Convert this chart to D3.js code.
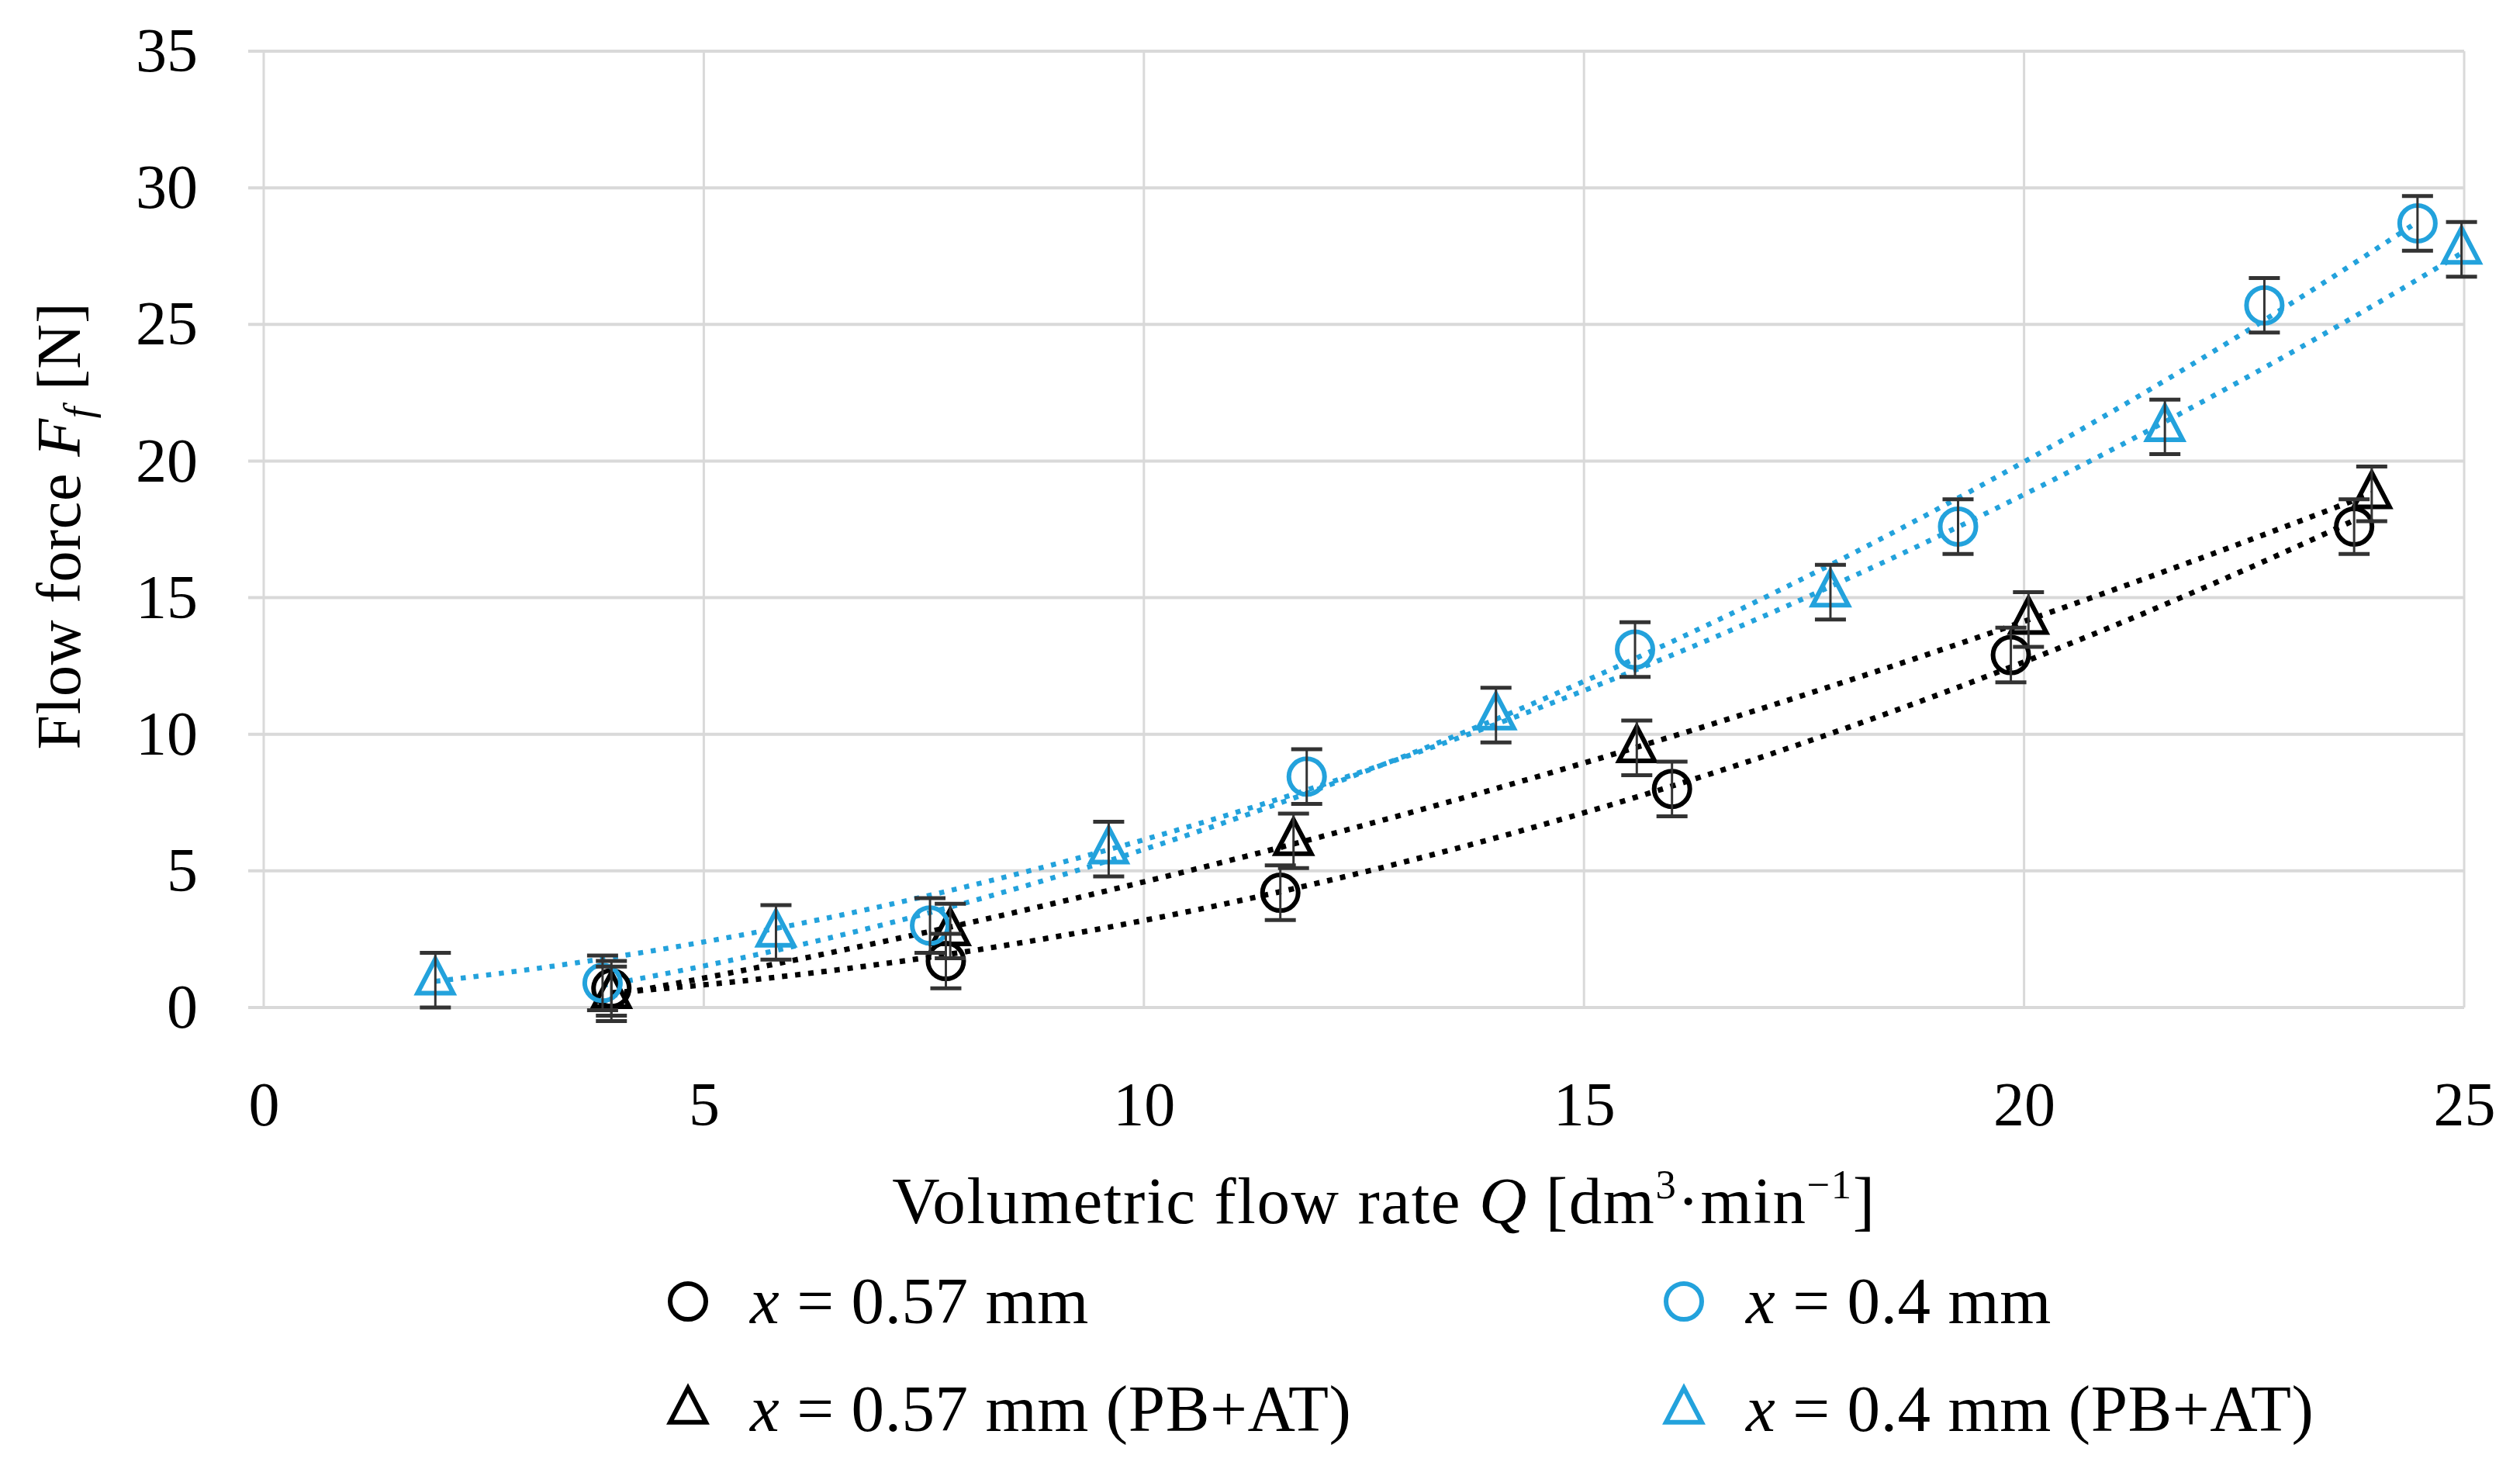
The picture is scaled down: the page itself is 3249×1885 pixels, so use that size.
<!DOCTYPE html>
<html><head><meta charset="utf-8">
<script src="https://cdn.jsdelivr.net/npm/d3@7"></script>
<style>
html,body{margin:0;padding:0;background:#fff;}
text{font-family:"Liberation Serif","Times New Roman",serif;fill:#000;}
</style></head>
<body>
<svg id="chart" width="3249" height="1885"></svg>
<script>
// ---- data ----
const xTicks = [0, 5, 10, 15, 20, 25];
const yTicks = [0, 5, 10, 15, 20, 25, 30, 35];

const q057   = [3.95, 7.75, 11.55, 16.0, 19.85, 23.75];
const f057   = [0.7, 1.7, 4.2, 8.0, 12.9, 17.6];
const q057pb = [3.95, 7.8, 11.7, 15.6, 20.05, 23.95];
const f057pb = [0.5, 2.8, 6.1, 9.5, 14.2, 18.8];
const q04    = [3.85, 7.57, 11.85, 15.58, 19.25, 22.73, 24.47];
const f04    = [0.9, 3.0, 8.45, 13.1, 17.6, 25.7, 28.7];
const q04pb  = [1.95, 5.82, 9.6, 14.0, 17.8, 21.6, 24.97];
const f04pb  = [1.0, 2.75, 5.8, 10.7, 15.2, 21.25, 27.75];
const errorN = 1.0; // ± error bar, N

const seriesLabels = ["= 0.57 mm", "= 0.57 mm (PB+AT)", "= 0.4 mm", "= 0.4 mm (PB+AT)"];

const BLACK = "#000000", BLUE = "#23a2dc";
const series = [
  {q: q057,   f: f057,   color: BLACK, shape: "circle",   label: seriesLabels[0]},
  {q: q057pb, f: f057pb, color: BLACK, shape: "triangle", label: seriesLabels[1]},
  {q: q04,    f: f04,    color: BLUE,  shape: "circle",   label: seriesLabels[2]},
  {q: q04pb,  f: f04pb,  color: BLUE,  shape: "triangle", label: seriesLabels[3]}
];

// ---- layout ----
const L = 340, R = 3177, T = 66, B = 1299;
const x = d3.scaleLinear().domain([0, 25]).range([L, R]);
const y = d3.scaleLinear().domain([0, 35]).range([B, T]);
const svg = d3.select("#chart");
const FS = 80, FT = 85;

// gridlines
svg.append("g").selectAll("line").data(xTicks).join("line")
  .attr("x1", d => x(d)).attr("x2", d => x(d)).attr("y1", T).attr("y2", B)
  .attr("stroke", "#d9d9d9").attr("stroke-width", 3);
svg.append("g").selectAll("line").data(yTicks).join("line")
  .attr("x1", L - 20).attr("x2", R).attr("y1", d => y(d)).attr("y2", d => y(d))
  .attr("stroke", "#d9d9d9").attr("stroke-width", 4);

// axes labels via d3 axes (no domain / tick lines)
const xAxis = svg.append("g").attr("transform", `translate(0,${B})`)
  .call(d3.axisBottom(x).tickValues(xTicks).tickSize(0).tickPadding(95));
const yAxis = svg.append("g").attr("transform", `translate(${L},0)`)
  .call(d3.axisLeft(y).tickValues(yTicks).tickSize(0).tickPadding(85));
[xAxis, yAxis].forEach(a => {
  a.select(".domain").remove();
  a.selectAll("text").attr("font-size", FS).attr("font-family", '"Liberation Serif",serif').attr("fill", "#000");
});

// quadratic least-squares trendline (like Excel polynomial order 2)
function quadFit(xs, ys) {
  const n = xs.length, s = [0,0,0,0,0], t = [0,0,0];
  for (let i = 0; i < n; i++) {
    const xi = xs[i], yi = ys[i];
    for (let k = 0; k < 5; k++) s[k] += Math.pow(xi, k);
    for (let k = 0; k < 3; k++) t[k] += yi * Math.pow(xi, k);
  }
  const M = [[s[0], s[1], s[2], t[0]], [s[1], s[2], s[3], t[1]], [s[2], s[3], s[4], t[2]]];
  for (let i = 0; i < 3; i++) {
    let p = i; for (let r = i + 1; r < 3; r++) if (Math.abs(M[r][i]) > Math.abs(M[p][i])) p = r;
    const tmp = M[i]; M[i] = M[p]; M[p] = tmp;
    for (let r = 0; r < 3; r++) if (r !== i) {
      const fct = M[r][i] / M[i][i];
      for (let c = i; c < 4; c++) M[r][c] -= fct * M[i][c];
    }
  }
  const c = M.map((row, i) => row[3] / row[i]);
  return v => c[0] + c[1] * v + c[2] * v * v;
}

const line = d3.line().x(d => x(d[0])).y(d => y(d[1]));
const gTrend = svg.append("g");
series.forEach(s => {
  const fn = quadFit(s.q, s.f);
  const lo = d3.min(s.q), hi = d3.max(s.q);
  const pts = d3.range(0, 101).map(i => { const v = lo + (hi - lo) * i / 100; return [v, fn(v)]; });
  const black = s.color === BLACK;
  gTrend.append("path").attr("d", line(pts)).attr("fill", "none")
    .attr("stroke", s.color).attr("stroke-width", black ? 7 : 6.5)
    .attr("stroke-dasharray", black ? "7 10" : "6.5 10");
});

// markers
function drawMarker(g, shape, color, cx, cy, scale = 1) {
  if (shape === "circle") {
    g.append("circle").attr("cx", cx).attr("cy", cy).attr("r", 23 * scale)
      .attr("fill", "none").attr("stroke", color).attr("stroke-width", 6);
  } else {
    const w = 46 * scale, h = 44 * scale;
    g.append("path").attr("d", `M${cx},${cy - h * 0.62}L${cx + w / 2},${cy + h * 0.38}L${cx - w / 2},${cy + h * 0.38}Z`)
      .attr("fill", "none").attr("stroke", color).attr("stroke-width", 6).attr("stroke-linejoin", "miter");
  }
}
const gMark = svg.append("g");
const gErr = svg.append("g");
series.forEach(s => {
  s.q.forEach((qv, i) => {
    drawMarker(gMark, s.shape, s.color, x(qv), y(s.f[i]));
    const cx = x(qv), y1 = y(s.f[i] + errorN), y2 = y(s.f[i] - errorN);
    gErr.append("line").attr("x1", cx).attr("x2", cx).attr("y1", y1).attr("y2", y2)
      .attr("stroke", "#333").attr("stroke-width", 3);
    [y1, y2].forEach(yy => gErr.append("line").attr("x1", cx - 20).attr("x2", cx + 20)
      .attr("y1", yy).attr("y2", yy).attr("stroke", "#333").attr("stroke-width", 5));
  });
});

// axis titles
const xt = svg.append("text").attr("x", (L + R) / 2 + 26).attr("y", 1577)
  .attr("text-anchor", "middle").attr("font-size", FT).attr("letter-spacing", 1.6);
xt.append("tspan").text("Volumetric flow rate ");
xt.append("tspan").attr("font-style", "italic").text("Q");
xt.append("tspan").text(" [dm");
xt.append("tspan").attr("font-size", FT * 0.62).attr("dy", -32).text("3");
xt.append("tspan").attr("dy", 32).text("·min");
xt.append("tspan").attr("font-size", FT * 0.62).attr("dy", -32).text("−1");
xt.append("tspan").attr("dy", 32).text("]");

const yt = svg.append("text").attr("transform", "translate(103,678) rotate(-90)")
  .attr("text-anchor", "middle").attr("font-size", FS).attr("letter-spacing", 0.8);
yt.append("tspan").text("Flow force ");
yt.append("tspan").attr("font-style", "italic").text("F");
yt.append("tspan").attr("font-style", "italic").attr("font-size", FS * 0.65).attr("dy", 16).text("f");
yt.append("tspan").attr("dy", -16).text(" [N]");

// legend
const legendPos = [[887, 1678], [887, 1817], [2171, 1678], [2171, 1817]];
const gLeg = svg.append("g");
series.forEach((s, i) => {
  const [lx, ly] = legendPos[i];
  drawMarker(gLeg, s.shape, s.color, lx, ly, 1);
  const t = gLeg.append("text").attr("x", lx + 80).attr("y", ly + 28)
    .attr("font-size", FT).attr("letter-spacing", 0.6);
  t.append("tspan").attr("font-style", "italic").text("x");
  t.append("tspan").text(" " + s.label);
});
</script>
</body></html>
